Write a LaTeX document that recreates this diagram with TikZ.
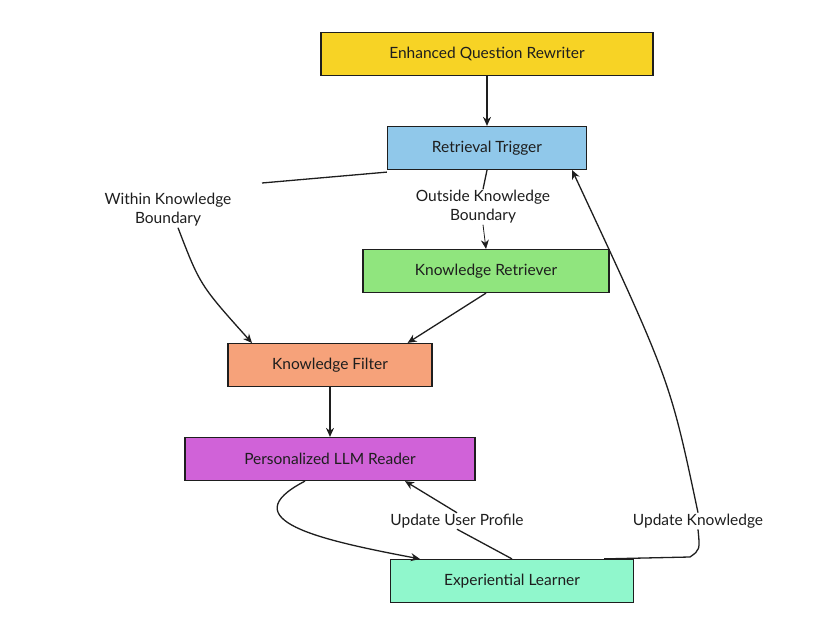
\documentclass[tikz,border=0pt]{standalone}
\usepackage{fontspec}
\setmainfont{Lato}
\usetikzlibrary{arrows.meta}
\definecolor{cy}{HTML}{F7D325}
\definecolor{cb}{HTML}{90C8EA}
\definecolor{cg}{HTML}{90E57E}
\definecolor{cs}{HTML}{F6A27A}
\definecolor{cp}{HTML}{D062D8}
\definecolor{cm}{HTML}{90F7CC}
\definecolor{ink}{HTML}{1E1E1E}
\begin{document}
\begin{tikzpicture}[x=1pt,y=-1pt,
  box/.style={draw=ink,line width=1.2pt,minimum height=43pt,font=\fontsize{15.5}{18}\selectfont,text=ink,inner sep=0pt},
  lab/.style={font=\fontsize{15.5}{19}\selectfont,text=ink,fill=white,align=center,inner sep=1pt},
  ar/.style={draw=ink,line width=1.3pt,-{Stealth[length=9pt,width=8pt]}},
  ln/.style={draw=ink,line width=1.3pt}]
\useasboundingbox (0,0) rectangle (833,639);
\node[box,fill=cy,minimum width=332pt] (rw) at (487,54) {Enhanced Question Rewriter};
\node[box,fill=cb,minimum width=199pt] (rt) at (487,148) {Retrieval Trigger};
\node[box,fill=cg,minimum width=246pt] (kr) at (486,271) {Knowledge Retriever};
\node[box,fill=cs,minimum width=204pt] (kf) at (330,365) {Knowledge Filter};
\node[box,fill=cp,minimum width=290pt] (pr) at (330,459) {Personalized LLM Reader};
\node[box,fill=cm,minimum width=243pt] (el) at (512,581) {Experiential Learner};
\node[lab] (wk) at (168,210) {Within Knowledge\\Boundary};
\node[lab] (ok) at (483,207) {Outside Knowledge\\Boundary};
\node[lab] (up) at (457,521) {Update User Profile};
\node[lab] (uk) at (698,521) {Update Knowledge};
\coordinate (c1) at (690,557);
\draw[ar] (rw) -- (rt);
\draw[ln] ([yshift=-2pt]rt.south west) -- (262,183);
\draw[ar] ([xshift=10pt]wk.south) .. controls (200,285) .. (252,343);
\draw[ln] (rt.south) -- (ok.north);
\draw[ar,line width=0.8pt] (ok.south) -- (kr.north);
\draw[ar] (kr.south) -- ([xshift=-25pt]kf.north east);
\draw[ar] (kf) -- (pr);
\draw[ar] ([xshift=-25pt]pr.south) .. controls (230,520) and (320,540) .. ([xshift=30pt]el.north west);
\draw[ln] ([xshift=0pt]el.north) -- (up.south);
\draw[ar] (up.north) -- ([xshift=75pt]pr.south);
\draw[ln] ([xshift=-30pt]el.north east) -- (c1) .. controls (700,550) .. (uk.south);
\draw[ar] (uk.north) .. controls (670,380) .. ([xshift=-15pt]rt.south east);
\end{tikzpicture}
\end{document}
